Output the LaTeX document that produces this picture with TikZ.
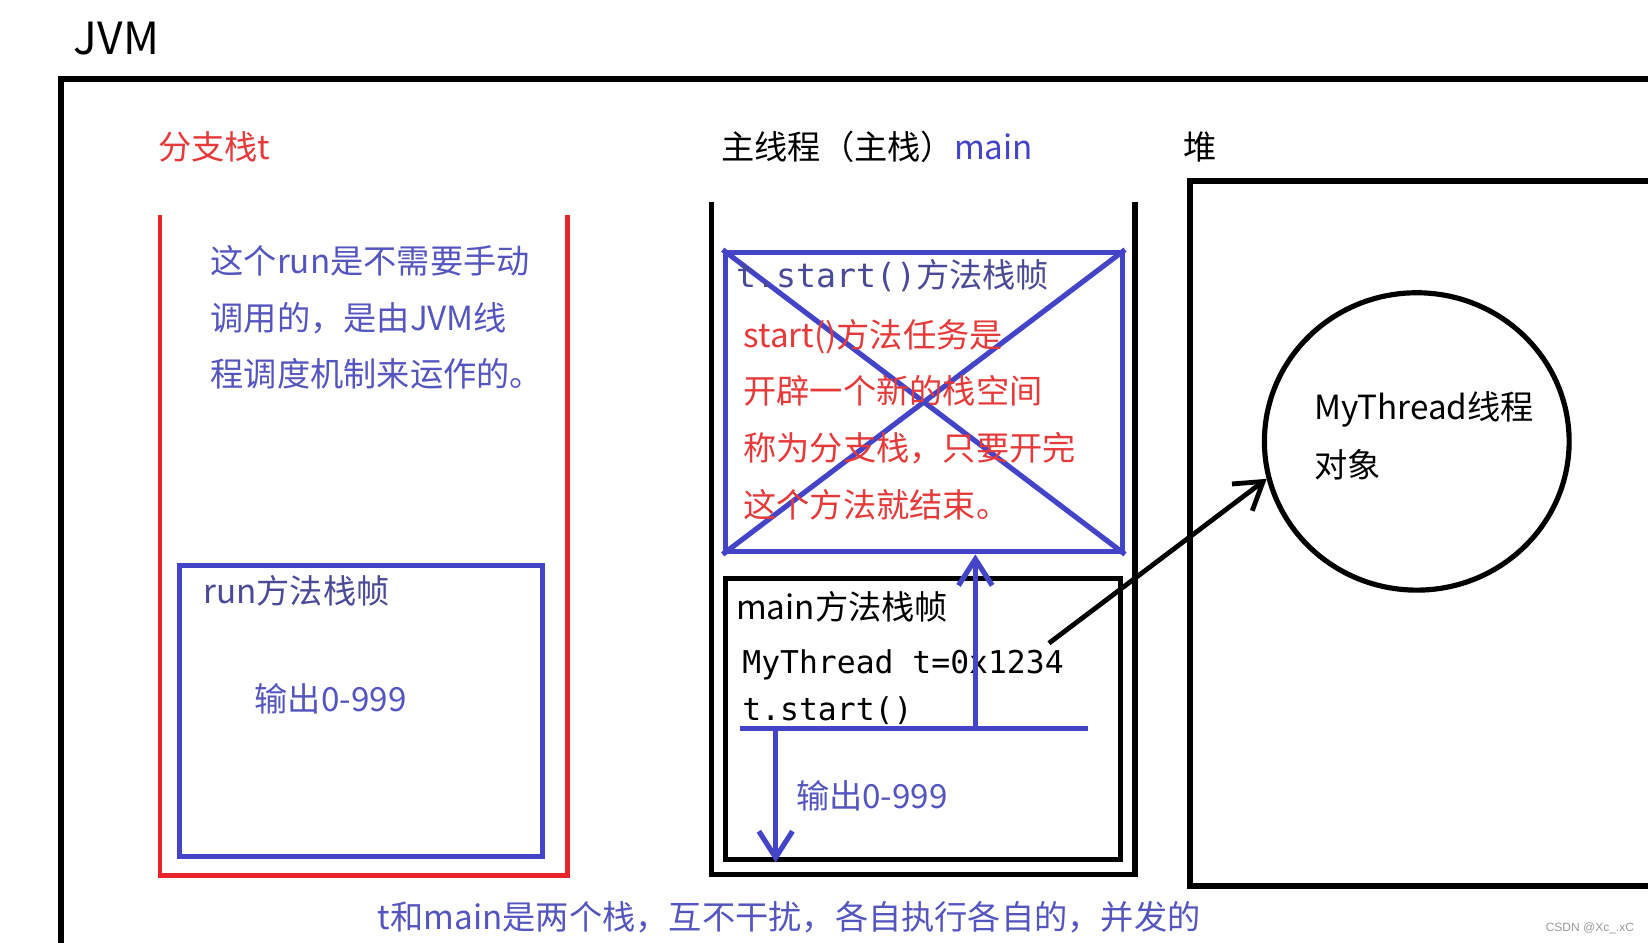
\documentclass[tikz,border=0pt]{standalone}
\usepackage{fontspec}
\setmainfont{Noto Sans CJK SC}
\newfontfamily\codefont{DejaVu Sans Mono}
\newfontfamily\markfont{Liberation Sans}
\usetikzlibrary{arrows.meta, positioning, shapes.geometric}

\definecolor{stackred}{HTML}{E8232B}
\definecolor{textred}{HTML}{E63A3A}
\definecolor{boxblue}{HTML}{4444C8}
\definecolor{textblue}{HTML}{5555C0}
\definecolor{slate}{HTML}{4A4A96}

\begin{document}
\begin{tikzpicture}[
    x=0.02cm, y=-0.02cm,
    every node/.style = {inner sep=0pt, font=\fontsize{18}{30.7}\selectfont},
    frame/.style = {draw, rectangle, line width=2.8pt},
    txt/.style = {anchor=west, align=left},
    >={Straight Barb[length=0.5cm, width=0.64cm]}
]
    \useasboundingbox (0,0) rectangle (1568,897);
    \clip (0,0) rectangle (1568,897);

    \node[txt, font=\fontsize{24}{28}\selectfont] (jvm) at (70,37) {JVM};
    \draw[line width=3pt] (58,910) -- (58,75) -- (1580,75);

    % branch stack t
    \node[txt, text=textred] (tlabel) at (150,140) {分支栈t};
    \draw[stackred, line width=2.4pt] (152,205) -- (152,833) -- (540,833) -- (540,205);
    \node[txt, text=textblue] (note) at (200,302) {这个run是不需要手动\\调用的，是由JVM线\\程调度机制来运作的。};
    \node[frame, draw=boxblue, minimum width=6.9cm, minimum height=5.54cm] (runframe) at (343.5,676.5) {};
    \node[txt, text=slate] (runlabel) at (193,562) {run方法栈帧};
    \node[txt, text=textblue] (runout) at (242,665) {输出0-999};

    % main stack
    \node[txt] (mainlabel) at (686,140) {主线程（主栈）\textcolor{boxblue}{main}};
    \draw[line width=3pt] (677,192) -- (677,832) -- (1080,832) -- (1080,192);
    \node[frame, draw=boxblue, minimum width=7.56cm, minimum height=5.7cm] (tstart) at (879,382.5) {};
    \draw[boxblue, line width=2.8pt] (tstart.north west) -- (tstart.south east);
    \draw[boxblue, line width=2.8pt] (tstart.north east) -- (tstart.south west);
    \node[txt, text=slate] (tstartlabel) at (700,262) {{\codefont t.start()}方法栈帧};
    \node[txt, text=textred] (task) at (707,399) {start()方法任务是\\开辟一个新的栈空间\\称为分支栈，只要开完\\这个方法就结束。};
    \node[frame, minimum width=7.52cm, minimum height=5.36cm] (mainframe) at (878,684) {};
    \node[txt] (mainframelabel) at (700,577) {main方法栈帧};
    \node[txt, font=\codefont\fontsize{17}{25.6}\selectfont] (code) at (706,654) {MyThread t=0x1234\\t.start()};

    \coordinate (callL) at (704,693);
    \coordinate (callR) at (1035,693);
    \coordinate (fork) at (928,693);
    \coordinate (join) at (738,693);
    \draw[boxblue, line width=2.8pt] (callL) -- (callR);
    \draw[->, boxblue, line width=2.8pt] (fork) -- (fork |- tstart.south);
    \draw[->, boxblue, line width=2.8pt] (join) -- (join |- mainframe.south);
    \node[txt, text=textblue] (mainout) at (757,757) {输出0-999};

    % heap
    \node[txt] (heaplabel) at (1126,140) {堆};
    \draw[line width=3pt] (1580,172) -- (1132,172) -- (1132,843) -- (1580,843);
    \node[draw, ellipse, line width=2.8pt, minimum width=5.8cm, minimum height=5.66cm] (obj) at (1348,420) {};
    \node[txt, font=\fontsize{18}{31.3}\selectfont] (objlabel) at (1250,415) {MyThread线程\\对象};
    \coordinate (ref) at (998,612);
    \draw[->, line width=2.6pt] (ref) -- (obj.194);

    \node[text=textblue] (summary) at (751,873) {t和main是两个栈，互不干扰，各自执行各自的，并发的};
    \node[anchor=east, text=gray!80, font=\markfont\fontsize{6.5}{8}\selectfont] (mark) at (1555,883) {CSDN @Xc\_.xC};
\end{tikzpicture}
\end{document}
